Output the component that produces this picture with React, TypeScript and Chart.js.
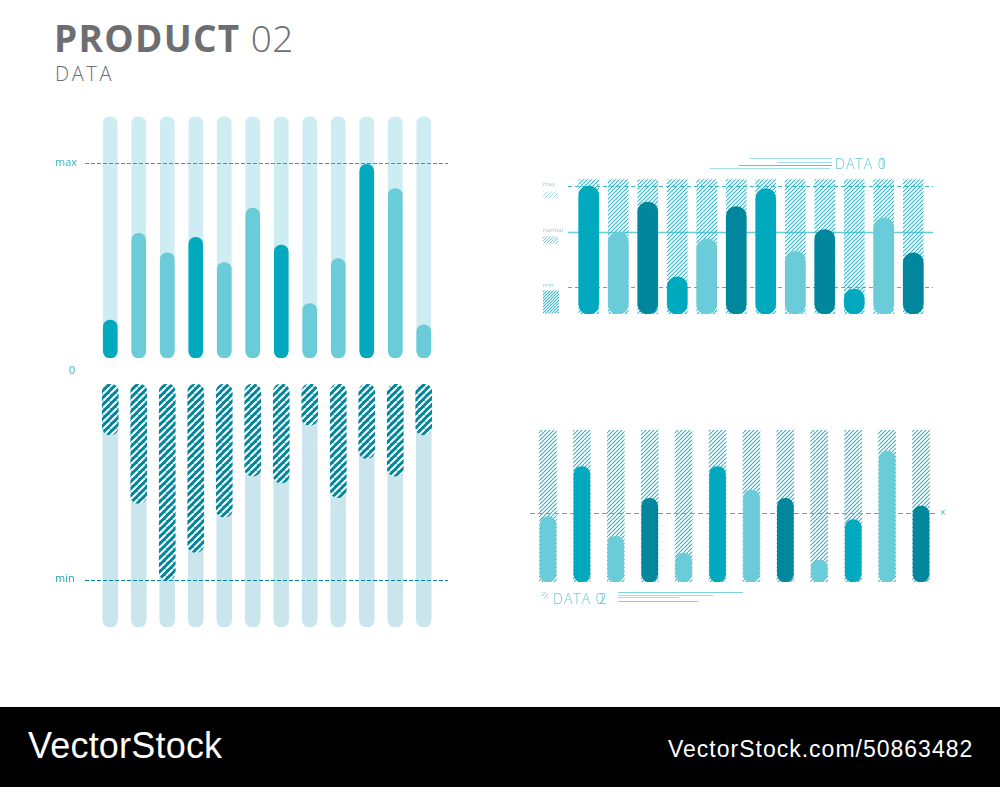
import React, { useEffect, useRef } from "react";
import { Chart, registerables } from "chart.js";

Chart.register(...registerables);

// ---------------- DATA ----------------
const CATEGORIES = ["1", "2", "3", "4", "5", "6", "7", "8", "9", "10", "11", "12"];

// left panel (upper half): values where "max" = 100
const TOP_LEFT_VALUES = [19.5, 64, 54, 62, 49, 77, 58, 28, 51, 99.5, 87, 17];
const TOP_LEFT_TRACK = 124;
const TOP_LEFT_MAX = 100;

// left panel (lower half): values where "min" = -100
const BOTTOM_LEFT_VALUES = [-26, -61, -100, -86, -68, -47, -50.5, -21, -58, -38, -47, -26];
const BOTTOM_LEFT_TRACK = -124;
const BOTTOM_LEFT_MIN = -100;

// DATA 01 panel
const DATA01_VALUES = [100, 64, 87.5, 29, 58.6, 84, 98, 49, 66, 19.5, 75, 47.7];
const DATA01_TRACK = 105;
const DATA01_LEVELS = { max: 100, normal: 64.3, min: 21 };

// DATA 02 panel
const DATA02_VALUES = [43, 76, 30, 55, 19, 76, 60.5, 55, 14.5, 41, 86, 50];
const DATA02_TRACK = 100;
const DATA02_MARK = 45.4;

// ---------------- STYLE ----------------
const MID = "#00A9BD";
const LIGHT = "#6ACCD8";
const DARK = "#00869D";
const TRACK_TOP = "#CDEDF2";
const TRACK_BOTTOM = "#CBE5ED";
const LINE = "#1BA9BE";
const LABEL = "#30B6C7";
const HATCH = "#33B3C6";

const TOP_LEFT_COLORS = [MID, LIGHT, LIGHT, MID, LIGHT, LIGHT, MID, LIGHT, LIGHT, MID, LIGHT, LIGHT];
const DATA01_COLORS = [MID, LIGHT, DARK, MID, LIGHT, DARK, MID, LIGHT, DARK, MID, LIGHT, DARK];
const DATA02_COLORS = [LIGHT, MID, LIGHT, DARK, LIGHT, MID, LIGHT, DARK, LIGHT, MID, LIGHT, DARK];

function stripes(size: number, lw: number, fg: string, bg?: string): CanvasPattern {
  const c = document.createElement("canvas");
  c.width = size;
  c.height = size;
  const g = c.getContext("2d")!;
  if (bg) {
    g.fillStyle = bg;
    g.fillRect(0, 0, size, size);
  }
  g.strokeStyle = fg;
  g.lineWidth = lw;
  g.beginPath();
  for (let k = -1; k <= 1; k++) {
    g.moveTo(k * size, size);
    g.lineTo(k * size + size, 0);
  }
  g.stroke();
  return g.createPattern(c, "repeat")!;
}

function baseOptions(pad: { l: number; r: number; t: number; b: number }, yMin: number, yMax: number): any {
  return {
    responsive: false,
    maintainAspectRatio: false,
    animation: false,
    events: [],
    layout: { padding: { left: pad.l, right: pad.r, top: pad.t, bottom: pad.b } },
    plugins: { legend: { display: false }, tooltip: { enabled: false } },
    scales: {
      x: { display: false, offset: true, grid: { display: false } },
      y: { display: false, min: yMin, max: yMax, grid: { display: false } },
    },
  };
}

function ChartPanel(props: { x: number; y: number; w: number; h: number; make: () => any }) {
  const ref = useRef<HTMLCanvasElement>(null);
  useEffect(() => {
    const chart = new Chart(ref.current!, props.make());
    return () => chart.destroy();
  }, []);
  return (
    <canvas
      ref={ref}
      width={props.w}
      height={props.h}
      style={{ position: "absolute", left: props.x, top: props.y, width: props.w, height: props.h }}
    />
  );
}

// ---------------- CHART CONFIGS ----------------
function topLeftConfig() {
  return {
    type: "bar",
    data: {
      labels: CATEGORIES,
      datasets: [
        {
          data: TOP_LEFT_VALUES,
          backgroundColor: TOP_LEFT_COLORS,
          barThickness: 14,
          borderRadius: 7,
          borderSkipped: false,
          grouped: false,
          order: 0,
        },
        {
          data: CATEGORIES.map(() => TOP_LEFT_TRACK),
          backgroundColor: TRACK_TOP,
          barThickness: 14,
          borderRadius: 7,
          borderSkipped: false,
          grouped: false,
          order: 1,
        },
      ],
    },
    options: baseOptions({ l: 56, r: 22, t: 11.5, b: 22 }, 0, TOP_LEFT_TRACK),
    plugins: [
      {
        id: "refs",
        afterDatasetsDraw(chart: any) {
          const { ctx, chartArea, scales } = chart;
          const y = scales.y;
          const yy = Math.round(y.getPixelForValue(TOP_LEFT_MAX)) + 0.5;
          ctx.save();
          ctx.strokeStyle = LINE;
          ctx.lineWidth = 1;
          ctx.setLineDash([4, 2]);
          ctx.beginPath();
          ctx.moveTo(chartArea.left - 11, yy);
          ctx.lineTo(chartArea.right + 10, yy);
          ctx.stroke();
          ctx.fillStyle = LABEL;
          ctx.font = '11px "Open Sans"';
          ctx.textBaseline = "middle";
          ctx.textAlign = "left";
          ctx.fillText("max", chartArea.left - 41, yy - 1);
          ctx.fillText("0", chartArea.left - 27, y.getPixelForValue(0) + 13);
          ctx.restore();
        },
      },
    ],
  };
}

function bottomLeftConfig() {
  const hatch = stripes(7, 2, "#FFFFFF", DARK);
  return {
    type: "bar",
    data: {
      labels: CATEGORIES,
      datasets: [
        {
          data: BOTTOM_LEFT_VALUES,
          backgroundColor: hatch,
          barThickness: 16,
          borderRadius: 8,
          borderSkipped: false,
          grouped: false,
          order: 0,
        },
        {
          data: CATEGORIES.map(() => BOTTOM_LEFT_TRACK),
          backgroundColor: TRACK_BOTTOM,
          barThickness: 15,
          borderRadius: 7.5,
          borderSkipped: false,
          grouped: false,
          order: 1,
        },
      ],
    },
    options: baseOptions({ l: 56, r: 22, t: 4, b: 13 }, BOTTOM_LEFT_TRACK, 0),
    plugins: [
      {
        id: "refs",
        afterDatasetsDraw(chart: any) {
          const { ctx, chartArea, scales } = chart;
          const yy = Math.round(scales.y.getPixelForValue(BOTTOM_LEFT_MIN)) + 0.5;
          ctx.save();
          ctx.strokeStyle = DARK;
          ctx.lineWidth = 1;
          ctx.setLineDash([4, 2]);
          ctx.beginPath();
          ctx.moveTo(chartArea.left - 11, yy);
          ctx.lineTo(chartArea.right + 10, yy);
          ctx.stroke();
          ctx.fillStyle = "#1E9DB3";
          ctx.font = '11px "Open Sans"';
          ctx.textBaseline = "middle";
          ctx.textAlign = "left";
          ctx.fillText("min", chartArea.left - 41, yy - 2);
          ctx.restore();
        },
      },
    ],
  };
}

function data01Config() {
  const hatch = stripes(4, 1.15, HATCH);
  const swMax = stripes(4, 1, "#A6E0E8");
  const swNormal = stripes(3, 1, "#6FCCD8");
  const swMin = stripes(3, 1.2, "#3FB5C6");
  return {
    type: "bar",
    data: {
      labels: CATEGORIES,
      datasets: [
        {
          data: DATA01_VALUES,
          backgroundColor: DATA01_COLORS,
          barThickness: 20,
          borderRadius: 10,
          borderSkipped: false,
          grouped: false,
          order: 0,
        },
        {
          data: CATEGORIES.map(() => DATA01_TRACK),
          backgroundColor: hatch,
          barThickness: 20,
          borderRadius: 0,
          borderSkipped: false,
          grouped: false,
          order: 1,
        },
      ],
    },
    options: baseOptions({ l: 39, r: 17, t: 10.3, b: 6 }, 0, 106),
    plugins: [
      {
        id: "refs",
        beforeDatasetsDraw(chart: any) {
          const { ctx, chartArea, scales } = chart;
          const y = scales.y;
          const x0 = chartArea.left - 6;
          const x1 = chartArea.right + 5;
          const lx = chartArea.left - 31;
          ctx.save();
          const levels: [string, number, boolean, CanvasPattern, number, number, number][] = [
            ["max", DATA01_LEVELS.max, true, swMax, 5, 7, 15],
            ["normal", DATA01_LEVELS.normal, false, swNormal, 4, 7, 15],
            ["min", DATA01_LEVELS.min, true, swMin, 3, 23, 16],
          ];
          for (const [name, v, dashed, sw, off, sh, swW] of levels) {
            const yy = Math.round(y.getPixelForValue(v)) + 0.5;
            ctx.strokeStyle = dashed ? "#3DB8C9" : "#6ACCD8";
            ctx.lineWidth = dashed ? 1 : 1.3;
            ctx.setLineDash(dashed ? [4, 3] : []);
            ctx.beginPath();
            ctx.moveTo(x0, yy);
            ctx.lineTo(x1, yy);
            ctx.stroke();
            ctx.fillStyle = "#7FD1DC";
            ctx.font = '6px "Open Sans"';
            ctx.textBaseline = "bottom";
            ctx.textAlign = "left";
            ctx.fillText(name, lx, yy + 1);
            ctx.fillStyle = sw;
            ctx.fillRect(lx, yy + off, swW, sh);
          }
          ctx.restore();
        },
      },
    ],
  };
}

function data02Config() {
  const hatch = stripes(4, 1.15, HATCH);
  return {
    type: "bar",
    data: {
      labels: CATEGORIES,
      datasets: [
        {
          data: DATA02_VALUES,
          backgroundColor: DATA02_COLORS,
          barThickness: 16,
          borderRadius: 8,
          borderSkipped: false,
          grouped: false,
          order: 0,
        },
        {
          data: CATEGORIES.map(() => DATA02_TRACK),
          backgroundColor: hatch,
          barThickness: 17,
          borderRadius: 0,
          borderSkipped: false,
          grouped: false,
          order: 1,
        },
      ],
    },
    options: baseOptions({ l: 11, r: 22, t: 10, b: 13 }, 0, DATA02_TRACK),
    plugins: [
      {
        id: "refs",
        beforeDatasetsDraw(chart: any) {
          const { ctx, chartArea, scales } = chart;
          const yy = Math.round(scales.y.getPixelForValue(DATA02_MARK)) + 0.5;
          ctx.save();
          ctx.strokeStyle = "#3DB8C9";
          ctx.lineWidth = 1;
          ctx.setLineDash([5, 3]);
          ctx.beginPath();
          ctx.moveTo(chartArea.left - 1, yy);
          ctx.lineTo(chartArea.right, yy);
          ctx.stroke();
          ctx.fillStyle = "#3DB8C9";
          ctx.font = '10px "Open Sans"';
          ctx.textBaseline = "middle";
          ctx.textAlign = "left";
          ctx.fillText("×", chartArea.right + 2, yy);
          ctx.restore();
        },
      },
    ],
  };
}

// ---------------- DECOR ----------------
function HLine(p: { x: number; y: number; w: number; c: string; t?: number }) {
  return (
    <div
      style={{
        position: "absolute",
        left: p.x,
        top: p.y,
        width: p.w,
        height: p.t ?? 1,
        background: p.c,
      }}
    />
  );
}

export default function App() {
  const legendText: React.CSSProperties = {
    position: "absolute",
    fontFamily: '"Open Sans", sans-serif',
    fontWeight: 300,
    fontSize: 14,
    lineHeight: "14px",
    color: "#62C9D6",
    letterSpacing: 1,
    whiteSpace: "nowrap",
  };
  return (
    <div
      style={{
        position: "fixed",
        left: 0,
        top: 0,
        width: 1000,
        height: 787,
        background: "#FFFFFF",
        overflow: "hidden",
        fontFamily: '"Open Sans", sans-serif',
      }}
    >
      <div
        style={{
          position: "absolute",
          left: 54,
          top: 18.5,
          fontSize: 37,
          lineHeight: "37px",
          color: "#6D6E71",
          whiteSpace: "nowrap",
        }}
      >
        <span style={{ fontWeight: 700, letterSpacing: 1.3 }}>PRODUCT</span>
        <span style={{ fontWeight: 300, letterSpacing: 0.5 }}> 02</span>
      </div>
      <div
        style={{
          position: "absolute",
          left: 55,
          top: 63.5,
          fontSize: 20,
          lineHeight: "20px",
          fontWeight: 300,
          color: "#6D6E71",
          letterSpacing: 2.6,
        }}
      >
        DATA
      </div>

      <ChartPanel x={40} y={105} w={420} h={275} make={topLeftConfig} />
      <ChartPanel x={40} y={380} w={420} h={260} make={bottomLeftConfig} />
      <ChartPanel x={535} y={168} w={410} h={152} make={data01Config} />
      <ChartPanel x={520} y={420} w={440} h={175} make={data02Config} />

      {/* DATA 01 legend */}
      <HLine x={750} y={157.5} w={82} c="#9EDDE6" />
      <HLine x={777} y={161.5} w={55} c="#9EDDE6" />
      <HLine x={739} y={164.5} w={93} c="#5EC6D3" t={1.3} />
      <HLine x={710} y={167.5} w={120} c="#9EDDE6" />
      <div style={{ ...legendText, left: 835, top: 157 }}>
        DATA <span style={{ letterSpacing: -7 }}>0</span>
        <span style={{ letterSpacing: 0 }}>1</span>
      </div>

      {/* DATA 02 legend */}
      <div
        style={{
          position: "absolute",
          left: 542,
          top: 592,
          width: 6,
          height: 6,
          backgroundImage:
            "repeating-linear-gradient(135deg, #7ED2DC 0px, #7ED2DC 1px, transparent 1px, transparent 2.5px)",
        }}
      />
      <div style={{ ...legendText, left: 553, top: 592 }}>
        DATA <span style={{ letterSpacing: -5 }}>0</span>
        <span style={{ letterSpacing: 0 }}>2</span>
      </div>
      <HLine x={618} y={591.5} w={125} c="#7ED2DC" />
      <HLine x={618} y={594.5} w={95} c="#9EDDE6" />
      <HLine x={618} y={597} w={61} c="#9EDDE6" />
      <HLine x={618} y={600.5} w={80} c="#7ED2DC" />

      {/* footer */}
      <div
        style={{
          position: "absolute",
          left: 0,
          top: 707,
          width: 1000,
          height: 80,
          background: "#000000",
        }}
      >
        <div
          style={{
            position: "absolute",
            left: 28,
            top: 21,
            fontFamily: '"Liberation Sans", sans-serif',
            fontSize: 36,
            lineHeight: "36px",
            color: "#FFFFFF",
            letterSpacing: 0.2,
            whiteSpace: "nowrap",
          }}
        >
          VectorStock
        </div>
        <div
          style={{
            position: "absolute",
            left: 668,
            top: 31,
            fontFamily: '"Liberation Sans", sans-serif',
            fontSize: 23,
            lineHeight: "23px",
            color: "#FFFFFF",
            letterSpacing: 1,
            whiteSpace: "nowrap",
          }}
        >
          VectorStock.com/50863482
        </div>
      </div>
    </div>
  );
}
